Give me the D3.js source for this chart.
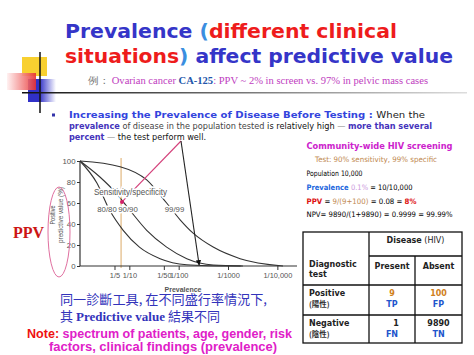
<!DOCTYPE html>
<html><head><meta charset="utf-8">
<script src="https://cdn.jsdelivr.net/npm/d3@7"></script>
<style>body{margin:0;background:#fff}</style>
</head><body>
<svg id="slide" width="474" height="355"></svg>
<script>
// curves, prevalence given as 1/denominator
var denoms8080 = [1, 2.2, 4, 7.5, 16, 42, 145, 400, 1800];
var ppv8080 = [100, 79, 53, 34, 18, 7, 1.2, 0.3, 0];
var denoms9090 = [1, 2.5, 5.5, 10.3, 22.5, 57, 146, 500, 2000];
var ppv9090 = [100, 85, 69, 53, 34, 18, 7, 1, 0];
var denoms9999 = [1, 6.5, 22.5, 57, 107, 199, 500, 1760, 13000];
var ppv9999 = [100, 94.6, 82, 60, 44, 31, 18, 7, 0];
var seriesNames = ["80/80", "90/90", "99/99"];

var yTicks = [0, 20, 40, 60, 80, 100];
var xTickDenoms = [5, 10, 50, 100, 1000, 10000];
var xTickLabels = ["1/5", "1/10", "1/50", "1/100", "1/1000", "1/10,000"];

// annotation points
var markerDenom = 6.8;      // vertical line
var dotPoint = [7.1, 61];   // end of pink pointer
var arrowPoint = [260, 0];  // end of black pointer

// 2x2 table (HIV screening)
var tableCols = ["Present", "Absent"];
var tableRows = ["Positive", "Negative"];
var tableRowsZh = ["(陽性)", "(陰性)"];
var tableCounts = [["9", "100"], ["1", "9890"]];
var tableCodes = [["TP", "FP"], ["FN", "TN"]];

var svg = d3.select("#slide");
var defs = svg.append("defs");

function addText(x, y, parts, o) {
    var t = svg.append("text")
        .attr("x", x).attr("y", y)
        .style("font-family", o.font || "DejaVu Sans")
        .style("font-size", o.size + "px")
        .style("font-weight", o.weight || "normal")
        .attr("fill", o.fill || "#000");
    if (o.anchor) t.attr("text-anchor", o.anchor);
    if (o.len) t.attr("textLength", o.len).attr("lengthAdjust", "spacingAndGlyphs");
    parts.forEach(function(p) {
        var s = t.append("tspan").text(p[0]);
        if (p[1]) s.attr("fill", p[1]);
        if (p[2]) s.style("font-weight", p[2]);
        if (p[3]) s.style("font-family", p[3]);
    });
    return t;
}

// ---- corner decoration
var gRed = defs.append("linearGradient").attr("id", "gRed");
gRed.append("stop").attr("offset", "0").attr("stop-color", "#fff0f0");
gRed.append("stop").attr("offset", "1").attr("stop-color", "#e83030");
var gBlue = defs.append("linearGradient").attr("id", "gBlue");
gBlue.append("stop").attr("offset", "0.4").attr("stop-color", "#3030c8");
gBlue.append("stop").attr("offset", "1").attr("stop-color", "#ffffff");
var gLine = defs.append("linearGradient").attr("id", "gLine");
gLine.append("stop").attr("offset", "0").attr("stop-color", "#111");
gLine.append("stop").attr("offset", "1").attr("stop-color", "#ddd");

svg.append("rect").attr("x", 22).attr("y", 57).attr("width", 25).attr("height", 19).attr("fill", "#f8d030");
svg.append("rect").attr("x", 28).attr("y", 79).attr("width", 28).attr("height", 23).attr("fill", "url(#gBlue)");
svg.append("rect").attr("x", 7).attr("y", 73).attr("width", 29).attr("height", 17).attr("fill", "url(#gRed)").attr("opacity", 0.9);
svg.append("line").attr("x1", 40).attr("x2", 40).attr("y1", 52).attr("y2", 113).attr("stroke", "#111").attr("stroke-width", 1.5);
svg.append("rect").attr("x", 22).attr("y", 92).attr("width", 445).attr("height", 1.5).attr("fill", "url(#gLine)");

// ---- title
addText(65, 38, [["Prevalence ", "#3535c8"], ["(", "#3a8ee0"], ["different clinical", "#ee1c1c"]],
    {size: 20, weight: "bold", len: 332});
addText(65, 63, [["situations", "#ee1c1c"], [")", "#3a8ee0"], [" affect predictive value", "#3535c8"]],
    {size: 20, weight: "bold", len: 388});
addText(88, 84, [["例： ", "#777"], ["Ovarian cancer ", "#c040c0"], ["CA-125", "#2255aa", "bold"],
    [": PPV ~ 2% in screen vs. 97% in pelvic mass cases", "#c040c0"]],
    {size: 10, font: "Liberation Serif", len: 340});

// ---- bullet
svg.append("rect").attr("x", 52).attr("y", 113.5).attr("width", 3).attr("height", 3).attr("fill", "#3333aa");
addText(69, 118, [["Increasing the Prevalence of Disease Before Testing : ", "#3344dd", "bold"], [" When the", "#222"]],
    {size: 8, len: 356});
addText(69, 129, [["prevalence", "#4433bb", "bold"], [" of disease in the population tested ", "#444"],
    ["is relatively high", "#111"], [" \u2014 ", "#999"], ["more than several", "#4433bb", "bold"]],
    {size: 8, len: 363});
addText(69, 139.5, [["percent", "#4433bb", "bold"], [" \u2014 ", "#999"], ["the test perform well.", "#111"]],
    {size: 8, len: 137});

// ---- chart
var x = d3.scaleLog().domain([1, 25000]).range([80, 297]);
var y = d3.scaleLinear().domain([0, 100]).range([266, 161]);
var chart = svg.append("g");

chart.append("line").attr("x1", x(markerDenom)).attr("x2", x(markerDenom))
    .attr("y1", 158).attr("y2", 268).attr("stroke", "#e2b880").attr("stroke-width", 1.2);

var yAxis = d3.axisLeft(y).tickValues(yTicks).tickSize(3).tickPadding(1.5);
var gy = chart.append("g").attr("transform", "translate(80,0)").call(yAxis);
var xAxis = d3.axisBottom(x).tickValues(xTickDenoms)
    .tickFormat(function(d, i) { return xTickLabels[i]; }).tickSize(4).tickPadding(3);
var gx = chart.append("g").attr("transform", "translate(0,266)").call(xAxis);
[gx, gy].forEach(function(g) {
    g.select(".domain").attr("stroke", "#333").attr("stroke-width", 1.2);
    g.selectAll(".tick line").attr("stroke", "#333");
    g.selectAll("text").attr("fill", "#555").style("font-family", "Liberation Sans").style("font-size", "7.8px");
});
gx.selectAll("text").style("font-size", "7.4px");
gy.select(".domain").attr("d", "M0,266V161");
gx.select(".domain").attr("d", "M80,0H297");

var line = d3.line()
    .x(function(d) { return x(d[0]); })
    .y(function(d) { return y(d[1]); })
    .curve(d3.curveMonotoneX);
var series = [d3.zip(denoms8080, ppv8080), d3.zip(denoms9090, ppv9090), d3.zip(denoms9999, ppv9999)];
chart.selectAll("path.curve").data(series).enter().append("path")
    .attr("class", "curve").attr("d", line)
    .attr("fill", "none").attr("stroke", "#333").attr("stroke-width", 1.1);

// labels with white halo breaking the curves
function halo(t) {
    t.attr("stroke", "#fff").attr("stroke-width", 3).attr("paint-order", "stroke");
}
halo(addText(130.5, 195, [["Sensitivity/specificity"]], {size: 9.5, font: "Liberation Sans", fill: "#555", anchor: "middle", len: 73}));
var labelX = [107, 128, 174.5];
seriesNames.forEach(function(n, i) {
    halo(addText(labelX[i], 211.5, [[n]], {size: 7.8, font: "Liberation Sans", fill: "#555", anchor: "middle"}));
});

// pointers from "perform well"
var apex = [181, 141];
chart.append("line").attr("x1", apex[0]).attr("y1", apex[1])
    .attr("x2", x(dotPoint[0])).attr("y2", y(dotPoint[1]))
    .attr("stroke", "#d4407a").attr("stroke-width", 1.1);
chart.append("circle").attr("cx", x(dotPoint[0])).attr("cy", y(dotPoint[1])).attr("r", 2).attr("fill", "#d4206a");
defs.append("marker").attr("id", "arr").attr("viewBox", "0 0 10 10").attr("refX", 9).attr("refY", 5)
    .attr("markerWidth", 5).attr("markerHeight", 5).attr("orient", "auto")
    .append("path").attr("d", "M0,0L10,5L0,10z").attr("fill", "#111");
chart.append("line").attr("x1", apex[0]).attr("y1", apex[1])
    .attr("x2", x(arrowPoint[0])).attr("y2", y(arrowPoint[1]) - 1)
    .attr("stroke", "#222").attr("stroke-width", 1.1).attr("marker-end", "url(#arr)");

// axis titles
addText(183, 291.5, [["Prevalence"]], {size: 7, weight: "bold", font: "Liberation Sans", fill: "#555", anchor: "middle"});
var yl = svg.append("g").attr("transform", "translate(55,215) rotate(-90)");
yl.append("text").attr("text-anchor", "middle").attr("y", 0).text("Positive")
    .attr("textLength", 19).attr("lengthAdjust", "spacingAndGlyphs")
    .style("font-family", "Liberation Sans").style("font-size", "7.2px").attr("fill", "#555");
yl.append("text").attr("text-anchor", "middle").attr("y", 7.5).text("predictive value (%)")
    .attr("textLength", 56).attr("lengthAdjust", "spacingAndGlyphs")
    .style("font-family", "Liberation Sans").style("font-size", "7.2px").attr("fill", "#555");
svg.append("ellipse").attr("cx", 59).attr("cy", 232).attr("rx", 11).attr("ry", 45)
    .attr("fill", "none").attr("stroke", "#e070a0").attr("stroke-width", 1);
addText(13, 238, [["PPV"]], {size: 16, weight: "bold", font: "Liberation Serif", fill: "#cc1515"});

// ---- right panel
addText(306.5, 148.5, [["Community-wide HIV screening"]], {size: 9, weight: "bold", fill: "#cc22cc", len: 146});
addText(315, 162, [["Test: 90% sensitivity, 99% specific"]], {size: 7.5, fill: "#c08850", len: 122});
addText(306.5, 176, [["Population 10,000"]], {size: 7.5, len: 56});
addText(306.5, 190, [["Prevalence ", "#2266dd", "bold"], ["0.1%", "#cc99dd"], [" = 10/10,000"]], {size: 7.5, len: 106});
addText(306.5, 203.5, [["PPV", "#dd1111", "bold"], [" = "], ["9/(9+100)", "#c08850"], [" = 0.08 = "], ["8%", "#dd1111", "bold"]],
    {size: 7.5, len: 110});
addText(306.5, 217, [["NPV= 9890/(1+9890) = 0.9999 = 99.99%"]], {size: 7.5, len: 146});

// ---- table
var tx = [303, 369, 415, 462];
var ty = [232, 256, 285, 315, 343];
var tb = svg.append("g").attr("stroke", "#111").attr("stroke-width", 1.3);
tb.append("rect").attr("x", tx[0]).attr("y", ty[0]).attr("width", tx[3] - tx[0]).attr("height", ty[4] - ty[0]).attr("fill", "none");
tb.append("line").attr("x1", tx[1]).attr("x2", tx[1]).attr("y1", ty[0]).attr("y2", ty[4]);
tb.append("line").attr("x1", tx[2]).attr("x2", tx[2]).attr("y1", ty[1]).attr("y2", ty[4]);
tb.append("line").attr("x1", tx[1]).attr("x2", tx[3]).attr("y1", ty[1]).attr("y2", ty[1]);
tb.append("line").attr("x1", tx[0]).attr("x2", tx[3]).attr("y1", ty[2]).attr("y2", ty[2]);
tb.append("line").attr("x1", tx[0]).attr("x2", tx[3]).attr("y1", ty[3]).attr("y2", ty[3]);

addText((tx[1] + tx[3]) / 2, 242.5, [["Disease", null, "bold"], [" (HIV)"]], {size: 8, fill: "#222", anchor: "middle"});
addText(309, 267, [["Diagnostic"]], {size: 8, weight: "bold", fill: "#222"});
addText(309, 277, [["test"]], {size: 8, weight: "bold", fill: "#222"});
tableCols.forEach(function(c, j) {
    addText((tx[j + 1] + tx[j + 2]) / 2, 269, [[c]], {size: 8, weight: "bold", fill: "#222", anchor: "middle"});
});
var countColor = ["#d08020", "#222"];
tableRows.forEach(function(r, i) {
    var base = ty[i + 2] + 10.5;
    addText(309, base, [[r]], {size: 8, weight: "bold", fill: "#222"});
    addText(309, base + 11, [[tableRowsZh[i]]], {size: 7.5, weight: "bold", fill: "#333", font: "Noto Sans CJK TC"});
    tableCodes[i].forEach(function(code, j) {
        var cx = (tx[j + 1] + tx[j + 2]) / 2;
        addText(cx + (i === 1 && j === 0 ? 4 : 0), base, [[tableCounts[i][j]]],
            {size: 8, weight: "bold", fill: countColor[i], anchor: "middle"});
        addText(cx, base + 11.5, [[code]], {size: 8, weight: "bold", fill: "#2255cc", anchor: "middle"});
    });
});

// ---- bottom text
addText(60, 304, [["同一診斷工具, 在不同盛行率情況下,"]], {size: 13, font: "Noto Sans CJK TC", fill: "#3333bb", len: 207});
addText(60, 321, [["其 "], ["Predictive value", null, "bold", "Liberation Serif"], [" 結果不同"]],
    {size: 13, font: "Noto Sans CJK TC", fill: "#3333bb", len: 160});
addText(27, 338, [["Note:", "#ee1111"], [" spectrum of patients, age, gender, risk"]],
    {size: 12, weight: "bold", font: "Liberation Sans", fill: "#e020c8", len: 265});
addText(49, 351, [["factors, clinical findings (prevalence)"]],
    {size: 12, weight: "bold", font: "Liberation Sans", fill: "#e020c8", len: 228});
</script>
</body></html>
